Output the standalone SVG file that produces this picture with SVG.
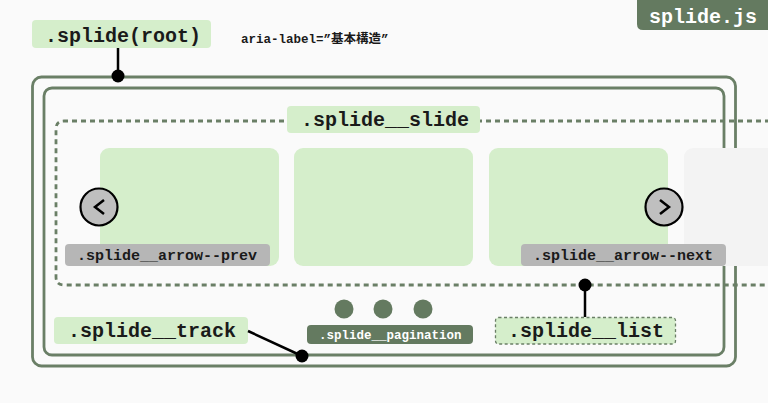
<svg xmlns="http://www.w3.org/2000/svg" width="768" height="403" viewBox="0 0 768 403">
<style>
.mono{font-family:"Liberation Mono","Courier New",monospace;font-weight:bold;fill:#1a1a1a}
.big{font-size:20px}
.lbl{fill:#d5eecb}
.box{fill:none;stroke:#6a7f66;stroke-width:2.8}
.slide{fill:#d5eecb}
.conn{stroke:#000;stroke-width:2.5;fill:none}
.dot{fill:#000}
.arrowc{fill:#bfbfbf;stroke:#000;stroke-width:2.2}
.chev{fill:none;stroke:#000;stroke-width:2.5}
.glbl{fill:#b6b6b6}
.pdot{fill:#647a60}
</style>
<rect x="0" y="0" width="768" height="403" fill="#fafafa"/>

<g id="badge">
<path d="M637 0 H768 V30 H643 Q637 30 637 24 Z" fill="#647a60"/>
<text x="649" y="23" class="mono big" style="fill:#ffffff">splide.js</text>
</g>

<g id="root-box">
<rect x="32.5" y="77" width="703" height="289" rx="9" class="box"/>
</g>
<g id="track-box">
<rect x="44" y="88" width="680" height="267" rx="8" class="box"/>
</g>
<g id="list-box">
<path d="M770 121 H64 Q56 121 56 129 V277 Q56 285 64 285 H770" class="box" stroke-dasharray="5 4"/>
</g>

<g id="slide1"><rect x="100" y="148" width="179" height="118" rx="9" class="slide"/></g>
<g id="slide2"><rect x="294" y="148" width="179" height="118" rx="9" class="slide"/></g>
<g id="slide3"><rect x="489" y="148" width="179" height="118" rx="9" class="slide"/></g>
<g id="slide4"><rect x="684" y="148" width="100" height="118" rx="9" fill="#f3f3f3"/></g>

<g id="root-label">
<rect x="32" y="20" width="179" height="28" rx="4" class="lbl"/>
<text x="45" y="42" class="mono big">.splide(root)</text>
</g>
<g id="aria">
<text x="241" y="43" class="mono" style="font-size:12.5px;font-family:'Liberation Mono','Noto Sans CJK JP',monospace">aria-label=”基本構造”</text>
</g>

<g id="slide-label">
<rect x="287" y="106" width="193" height="27" rx="4" class="lbl"/>
<text x="301" y="126" class="mono big">.splide__slide</text>
</g>

<g id="arrow-prev">
<circle cx="99" cy="207" r="18.5" class="arrowc"/>
<polyline points="104,200 95,207 104,214" class="chev"/>
</g>
<g id="arrow-next">
<circle cx="664" cy="207" r="18.5" class="arrowc"/>
<polyline points="660,200 669,207 660,214" class="chev"/>
</g>

<g id="prev-label">
<rect x="65" y="244" width="205" height="22" rx="4" class="glbl"/>
<text x="77" y="260" class="mono" style="font-size:15px">.splide__arrow--prev</text>
</g>
<g id="next-label">
<rect x="521" y="244" width="205" height="22" rx="4" class="glbl"/>
<text x="533" y="260" class="mono" style="font-size:15px">.splide__arrow--next</text>
</g>

<g id="pagination">
<circle cx="344" cy="309" r="9.5" class="pdot"/>
<circle cx="383" cy="309" r="9.5" class="pdot"/>
<circle cx="423" cy="309" r="9.5" class="pdot"/>
<rect x="307" y="325" width="166" height="19" rx="4" fill="#647a60"/>
<text x="319" y="339" class="mono" style="font-size:12.5px;fill:#ffffff">.splide__pagination</text>
</g>

<g id="track-label">
<rect x="54" y="317" width="194" height="27" rx="4" class="lbl"/>
<text x="68" y="337" class="mono big">.splide__track</text>
</g>

<g id="list-label">
<rect x="495.5" y="317.5" width="180" height="26.5" rx="3" class="lbl" stroke="#6a7f66" stroke-width="1.3" stroke-dasharray="3 2.5"/>
<text x="508" y="337" class="mono big">.splide__list</text>
</g>

<g id="connectors">
<line x1="118" y1="48" x2="118" y2="76" class="conn"/>
<circle cx="118" cy="76" r="6.5" class="dot"/>
<line x1="248" y1="331" x2="302" y2="356" class="conn"/>
<circle cx="302" cy="356" r="6.5" class="dot"/>
<line x1="585" y1="317" x2="585" y2="285" class="conn"/>
<circle cx="585" cy="285" r="6.5" class="dot"/>
</g>
</svg>
